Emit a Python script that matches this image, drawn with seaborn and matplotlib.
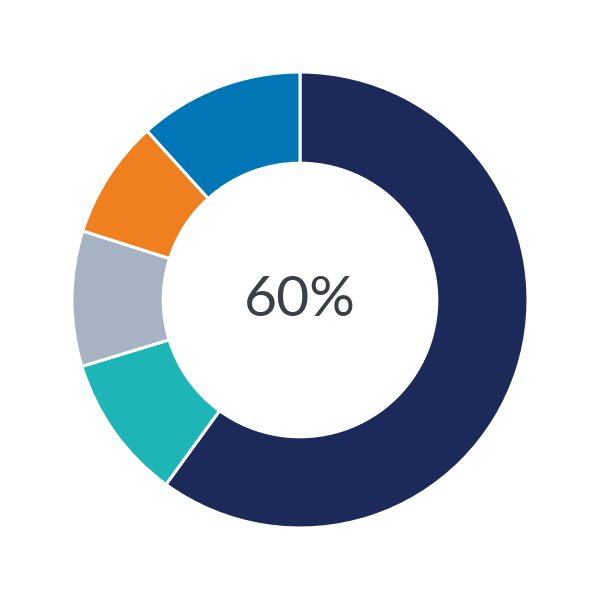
import matplotlib
matplotlib.use("Agg")
import matplotlib.pyplot as plt
import seaborn as sns

sns.set_theme(style="white")
plt.rcParams['font.family'] = ['Lato', 'DejaVu Sans']

# slices, clockwise from the top
categories = ["Navy", "Teal", "Grey", "Orange", "Blue"]
values = [60, 10.3, 9.6, 8.4, 11.7]
colors = ["#1c2a5a", "#1db5b5", "#a7b3c3", "#f07f20", "#0076b6"]
center_label = "60%"

fig = plt.figure(figsize=(6, 6), dpi=100)
ax = fig.add_axes([0, 0, 1, 1])

ax.pie(
    values,
    colors=sns.color_palette(colors),
    startangle=90,
    counterclock=False,
    radius=1.0,
    wedgeprops={"width": 0.4, "edgecolor": "white", "linewidth": 2.2},
)
ax.text(0, 0, center_label, ha="center", va="center",
        fontsize=41, fontweight="normal", color="#3b4045")

lim = 300 / 228
ax.set_xlim(-lim, lim)
ax.set_ylim(-lim, lim)
ax.set_aspect("equal")
ax.axis("off")

fig.savefig("out.png", dpi=100, facecolor="white")
